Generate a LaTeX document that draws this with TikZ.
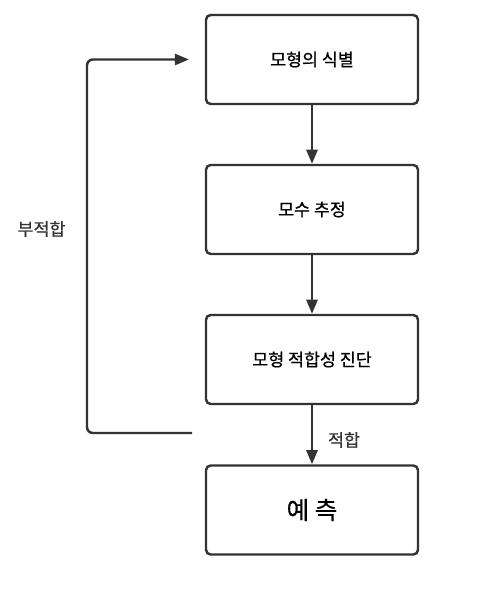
\documentclass[tikz,border=0pt]{standalone}
\usepackage{fontspec}
\setmainfont{Noto Sans CJK KR}[FakeBold=0.6]
\definecolor{LineDark}{HTML}{333333}
\usepackage{tikz}
\usetikzlibrary{arrows.meta, positioning}

\tikzset{
  stepbox/.style={draw=LineDark, line width=2.1pt, rounded corners=4pt,
    minimum width=6.36cm, minimum height=2.67cm, font=\fontsize{14.8}{16}\selectfont},
  flow/.style={draw=LineDark, line width=2.1pt, -{Triangle[length=12pt, width=9.5pt]}},
  flowlabel/.style={font=\fontsize{14.8}{16}\selectfont, text=LineDark}
}

\begin{document}
\begin{tikzpicture}[x=0.03cm, y=-0.03cm]
      \useasboundingbox (0,0) rectangle (476,595);
      % process boxes
      \node[stepbox] (ident) at (312,59.5) {모형의 식별};
      \node[stepbox] (estim) at (312,209.5) {모수 추정};
      \node[stepbox] (check) at (312,359.5) {모형 적합성 진단};
      \node[stepbox, font=\fontsize{21}{23}\selectfont] (predict) at (312,510) {예 측};
      % forward flow
      \draw[flow] (ident) -- (estim);
      \draw[flow] (estim) -- (check);
      \draw[flow] (check) -- (predict);
        \node[flowlabel] (fitlbl) at (344,440) {적합};
      % feedback loop
      \coordinate (loopstart) at (192,433);
      \coordinate (loopcorner) at (87,433);
      \draw[flow, rounded corners=5pt, shorten >=13.5pt] (loopstart) -- (loopcorner) |- (ident.west);
        \node[flowlabel] (unfitlbl) at (41.5,229) {부적합};
      \end{tikzpicture}
\end{document}
